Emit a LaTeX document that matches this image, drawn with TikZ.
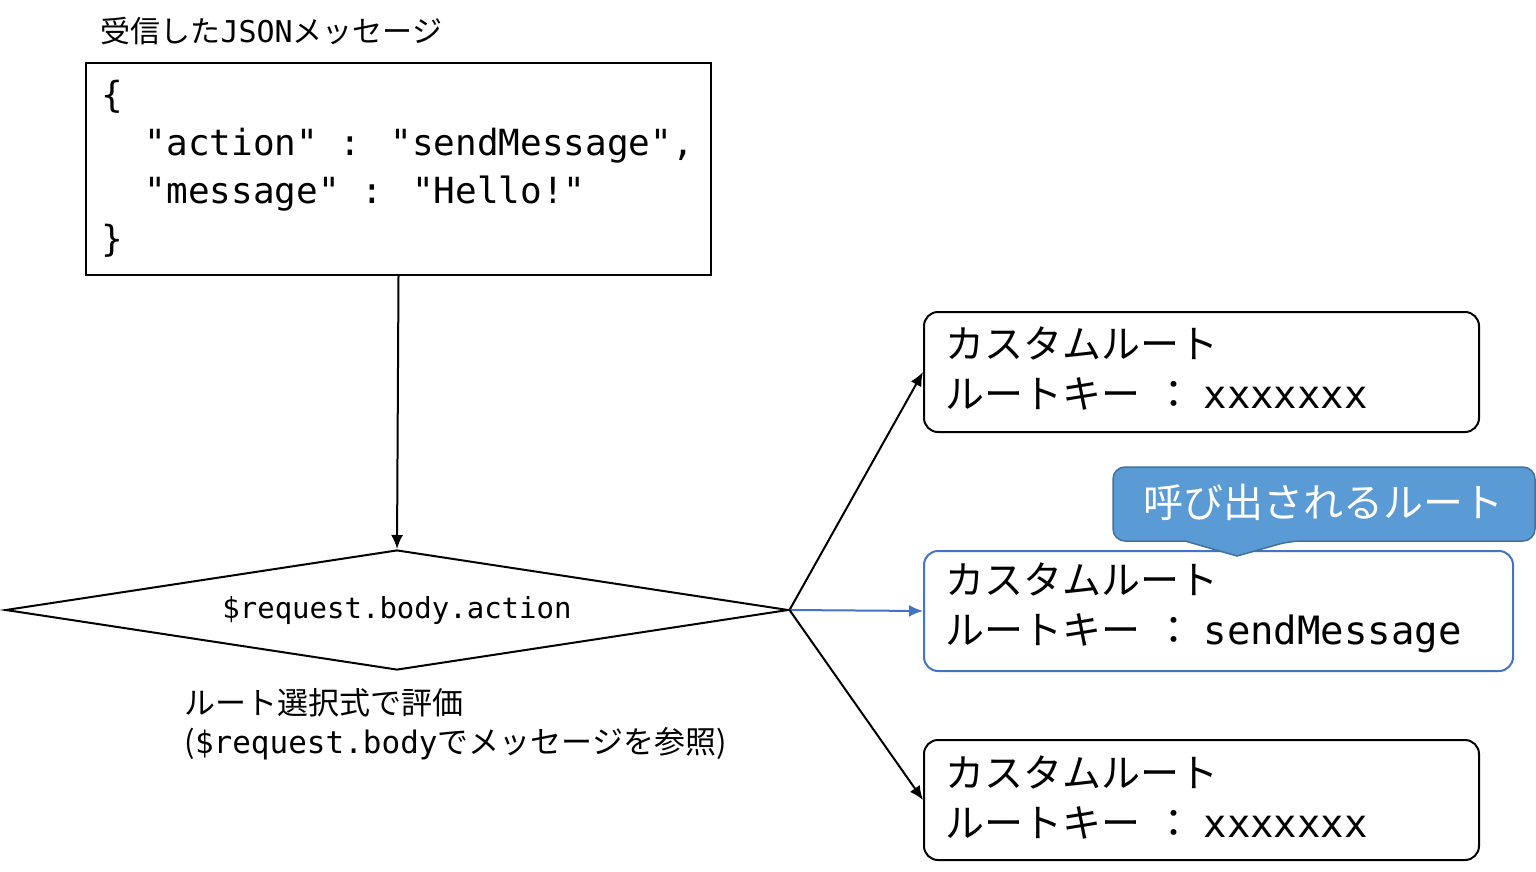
\documentclass[tikz,border=0pt]{standalone}
\usepackage{fontspec}
\setmainfont{Noto Sans CJK JP}
\newfontfamily\mono{DejaVu Sans Mono}
\newfontfamily\jp{Noto Sans CJK JP}
\usetikzlibrary{shapes.geometric,arrows.meta}
\definecolor{cblue}{HTML}{4472C4}
\definecolor{cfill}{HTML}{5B9BD5}
\definecolor{cedge}{HTML}{41719C}
\begin{document}
\begin{tikzpicture}[x=1pt,y=-1pt,
  box/.style={draw,line width=2pt,rounded corners=14pt,minimum width=555pt,minimum height=120pt,anchor=north west},
  arr/.style={line width=2pt,-{Latex[length=14pt,width=12pt]}},
  big/.style={font=\fontsize{39}{50}\selectfont,align=left,anchor=west}]
\useasboundingbox (0,0) rectangle (1536,872);
\node[anchor=west,font=\fontsize{30}{34}\selectfont] (title) at (97,31) {受信した{\mono JSON}メッセージ};
\node[draw,line width=2pt,minimum width=625pt,minimum height=212pt,anchor=north west] (json) at (85,62) {};
\node[anchor=west,font=\mono\fontsize{36}{48}\selectfont,align=left] (code) at (98,169) {\{\\\ \ "action" : "sendMessage",\\\ \ "message" : "Hello!"\\\}};
\node[draw,diamond,line width=2pt,minimum width=783pt,minimum height=120pt,inner sep=0pt,aspect=6.5] (dia) at (397,610) {};
\node[font=\mono\fontsize{29}{30}\selectfont] (dlab) at (397,611) {\$request.body.action};
\node[anchor=west,font=\fontsize{31}{39}\selectfont,align=left] (cap) at (181,724) {ルート選択式で評価\\({\mono \$request.body}でメッセージを参照)};
\node[box] (b1) at (923,311) {};
\node[box,draw=cblue,minimum width=589pt] (b2) at (923,550) {};
\node[box] (b3) at (923,739) {};
\node[big] (t1) at (942,369) {カスタムルート\\ルートキー\hspace{14pt}：\hspace{10pt}{\mono xxxxxxx}};
\node[big] (t2) at (942,608) {カスタムルート\\ルートキー\hspace{14pt}：\hspace{10pt}{\mono sendMessage}};
\node[big] (t3) at (942,797) {カスタムルート\\ルートキー\hspace{14pt}：\hspace{10pt}{\mono xxxxxxx}};
\draw[fill=cfill,draw=cedge,line width=1.5pt,rounded corners=12pt] (1113,467) -- (1535,467) -- (1535,541) -- (1290,541)[sharp corners] -- (1237,556) -- (1185,541)[rounded corners=12pt] -- (1113,541) -- cycle;
\node[text=white,font=\fontsize{40}{44}\selectfont] (call) at (1323,502) {呼び出されるルート};
\draw[arr] (json.south) -- (dia.north);
\draw[arr] (dia.east) -- (b1.west);
\draw[arr,draw=cblue] (dia.east) -- (b2.west);
\draw[arr] (dia.east) -- (b3.west);
\end{tikzpicture}
\end{document}
